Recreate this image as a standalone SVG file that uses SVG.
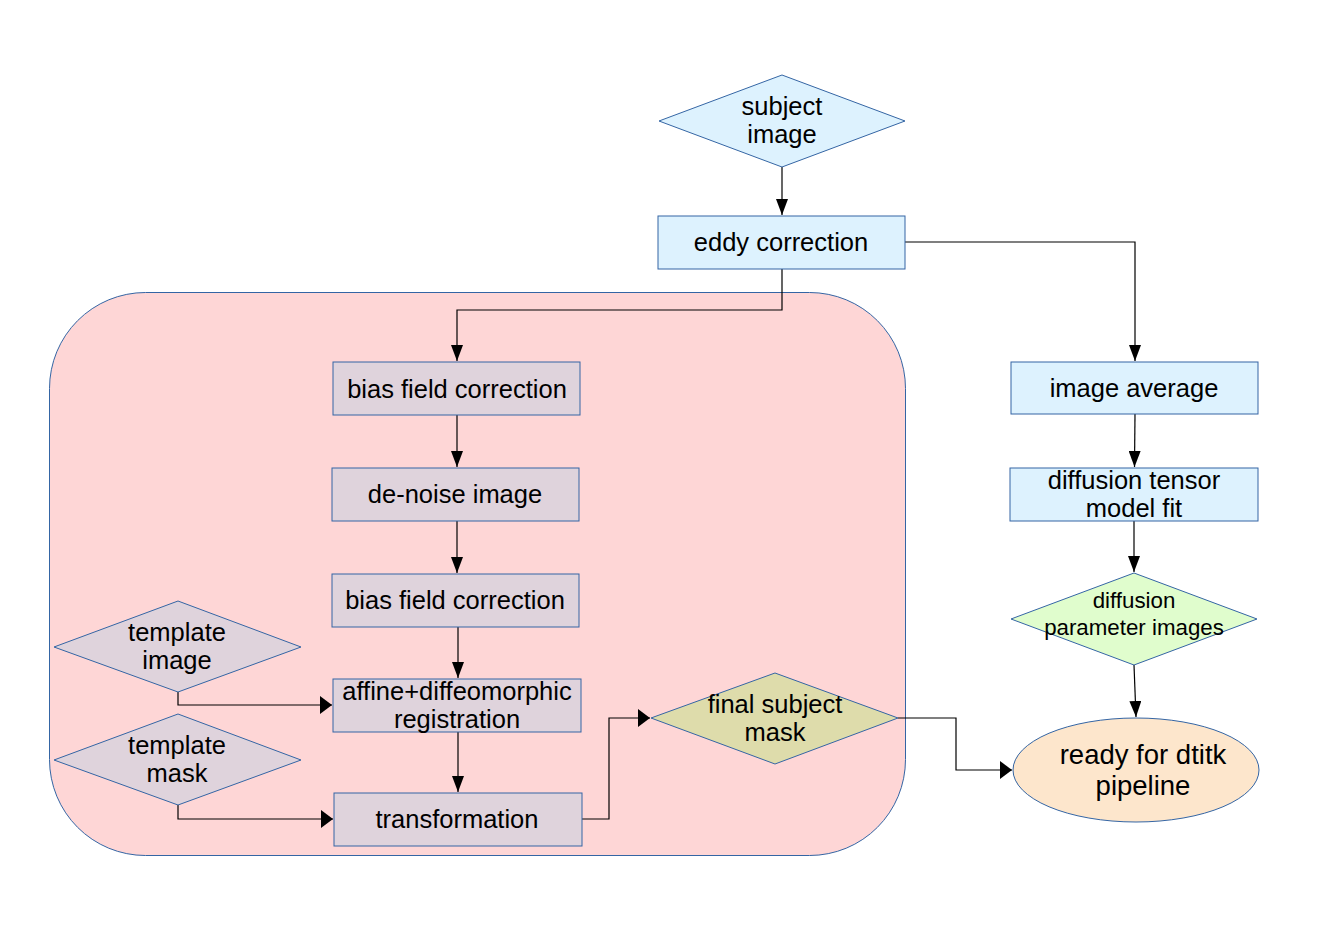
<svg xmlns="http://www.w3.org/2000/svg" width="1344" height="950" viewBox="0 0 1344 950">
<defs>
<marker id="arr" markerUnits="userSpaceOnUse" markerWidth="12" markerHeight="18" viewBox="0 0 12 18" refX="12" refY="9" orient="auto">
<path d="M0,0 L12,9 L0,18 Z" fill="#000"/>
</marker>
<marker id="arrv" markerUnits="userSpaceOnUse" markerWidth="16" markerHeight="12" viewBox="0 0 16 12" refX="16" refY="6" orient="auto">
<path d="M0,0 L16,6 L0,12 Z" fill="#000"/>
</marker>
</defs>
<style>
.shape{stroke:#3465a4;stroke-width:1}
.blue{fill:#ddf2fe}
.purple{fill:#dfd3dc}
.green{fill:#e0fdcd}
.olive{fill:#dedcab}
.orange{fill:#fde6cc}
text{font-family:"Liberation Sans",Arial,sans-serif;font-size:25.5px;fill:#000;text-anchor:middle}
.small{font-size:22.3px}
.big{font-size:27.5px}
.conn{fill:none;stroke:#000;stroke-width:1.2}
</style>
<rect width="1344" height="950" fill="#fff"/>
<g id="region">
<rect x="49.5" y="292.5" width="856" height="563" rx="96" ry="96" fill="#fed6d6" class="shape"/>
</g>
<g id="connectors">
<path class="conn" d="M782,167 V215" marker-end="url(#arrv)"/>
<path class="conn" d="M782,269 V310 H457 V361" marker-end="url(#arrv)"/>
<path class="conn" d="M905,242 H1135 V361" marker-end="url(#arrv)"/>
<path class="conn" d="M457,415 V467" marker-end="url(#arrv)"/>
<path class="conn" d="M457,521 V573" marker-end="url(#arrv)"/>
<path class="conn" d="M458,627 V678" marker-end="url(#arrv)"/>
<path class="conn" d="M458,732 V792" marker-end="url(#arrv)"/>
<path class="conn" d="M178,692 V705 H332" marker-end="url(#arr)"/>
<path class="conn" d="M178,805 V819 H333" marker-end="url(#arr)"/>
<path class="conn" d="M582,819 H609 V718 H650" marker-end="url(#arr)"/>
<path class="conn" d="M898,718 H956 V770 H1012" marker-end="url(#arr)"/>
<path class="conn" d="M1135,414 L1134.5,467" marker-end="url(#arrv)"/>
<path class="conn" d="M1134,521 V572" marker-end="url(#arrv)"/>
<path class="conn" d="M1134,665 L1136,717" marker-end="url(#arrv)"/>
</g>
<g id="subject-image">
<polygon class="shape blue" points="782,75 905,121 782,167 659,121"/>
<text x="782" y="115">subject</text>
<text x="782" y="143">image</text>
</g>
<g id="eddy-correction">
<rect class="shape blue" x="658" y="216" width="247" height="53"/>
<text x="781" y="251">eddy correction</text>
</g>
<g id="bias-field-correction-1">
<rect class="shape purple" x="333" y="362" width="247" height="53"/>
<text x="457" y="398">bias field correction</text>
</g>
<g id="de-noise-image">
<rect class="shape purple" x="332" y="468" width="247" height="53"/>
<text x="455" y="503">de-noise image</text>
</g>
<g id="bias-field-correction-2">
<rect class="shape purple" x="332" y="574" width="247" height="53"/>
<text x="455" y="609">bias field correction</text>
</g>
<g id="registration">
<rect class="shape purple" x="333" y="679" width="248" height="53"/>
<text x="457" y="700">affine+diffeomorphic</text>
<text x="457" y="728">registration</text>
</g>
<g id="transformation">
<rect class="shape purple" x="334" y="793" width="248" height="53"/>
<text x="457" y="828">transformation</text>
</g>
<g id="template-image">
<polygon class="shape purple" points="178,601 301,647 178,692 54,647"/>
<text x="177" y="641">template</text>
<text x="177" y="669">image</text>
</g>
<g id="template-mask">
<polygon class="shape purple" points="178,714 301,760 178,805 54,760"/>
<text x="177" y="754">template</text>
<text x="177" y="782">mask</text>
</g>
<g id="final-subject-mask">
<polygon class="shape olive" points="775,673 898,718 775,764 651,718"/>
<text x="775" y="713">final subject</text>
<text x="775" y="741">mask</text>
</g>
<g id="image-average">
<rect class="shape blue" x="1011" y="362" width="247" height="52"/>
<text x="1134" y="397">image average</text>
</g>
<g id="diffusion-tensor">
<rect class="shape blue" x="1010" y="468" width="248" height="53"/>
<text x="1134" y="489">diffusion tensor</text>
<text x="1134" y="517">model fit</text>
</g>
<g id="diffusion-parameter-images">
<polygon class="shape green" points="1134,573 1257,619 1134,665 1011,619"/>
<text class="small" x="1134" y="608">diffusion</text>
<text class="small" x="1134" y="635">parameter images</text>
</g>
<g id="ready">
<ellipse class="shape orange" cx="1136" cy="770" rx="123" ry="52"/>
<text class="big" x="1143" y="764">ready for dtitk</text>
<text class="big" x="1143" y="795">pipeline</text>
</g>
</svg>
